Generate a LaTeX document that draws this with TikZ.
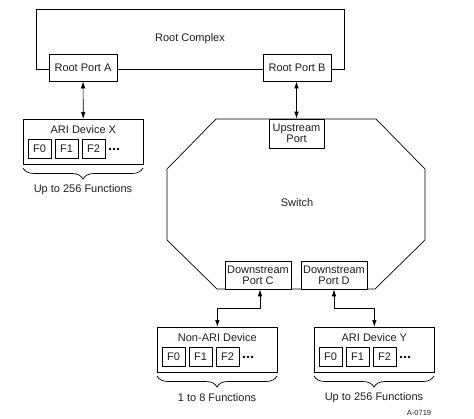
\documentclass[tikz,border=0pt]{standalone}
\usepackage{fontspec}
\setmainfont{Liberation Sans}
\usetikzlibrary{arrows.meta,decorations.pathreplacing,calc}
\begin{document}
\begin{tikzpicture}[x=1pt,y=-1pt,
  line width=0.7pt,
  every node/.style={font=\fontsize{11}{11}\selectfont, text=black!88},
  box/.style={draw, fill=white, inner sep=0pt, align=center},
  fbox/.style={box, minimum width=23pt, minimum height=19pt},
  devbox/.style={box, minimum width=120pt, minimum height=45pt, anchor=north west},
  portbox/.style={box, minimum height=27pt},
  link/.style={{Latex[length=7pt,width=4.5pt]}-{Latex[length=7pt,width=4.5pt]}},
  brc/.style={decorate, decoration={brace, mirror, amplitude=11pt}},
]
\useasboundingbox (0,0) rectangle (474,418);

% Root complex
\node[box, minimum width=308pt, minimum height=60pt] (rc) at (190,39) {Root Complex};
\node[portbox, minimum width=68pt] (rpa) at (83,67.5) {Root Port A};
\node[portbox, minimum width=68pt] (rpb) at (297,67.5) {Root Port B};

% Switch
\draw (216,119) -- (376,119) -- (425,169) -- (425,240) -- (375,289)
  -- (217,289) -- (167,240) -- (167,169) -- cycle;
\node (sw) at (297,203) {Switch};
\node[box, minimum width=55pt, minimum height=29pt] (up) at (296.5,133.5) {Upstream\\Port};
\node[box, minimum width=66pt, minimum height=28pt] (dc) at (258,275) {Downstream\\Port C};
\node[box, minimum width=66pt, minimum height=28pt] (dd) at (334,275) {Downstream\\Port D};

% Devices
\foreach \n/\l/\t/\name/\fn in {dx/23/119/ARI Device X/Up to 256 Functions,
                                dn/157/327/Non-ARI Device/1 to 8 Functions,
                                dy/314/327/ARI Device Y/Up to 256 Functions}{
  \node[devbox] (\n) at (\l,\t) {};
  \node (\n-t) at ($(\n.north)+(0,11)$) {\name};
  \node[fbox] (\n-f0) at (\l+16.5,\t+29.5) {F0};
  \node[fbox] (\n-f1) at (\l+43.5,\t+29.5) {F1};
  \node[fbox] (\n-f2) at (\l+70.5,\t+29.5) {F2};
  \foreach \d in {87,91,95}{\fill (\l+\d,\t+30) circle (1.4);}
  \draw[brc] (\l,\t+49) -- (\l+120,\t+49);
  \node (\n-fn) at (\l+60,\t+71) {\fn};
}

% Links
\draw[link] (rpa) -- (dx);
\draw[link] (up.north) -- (up.north |- rpb.south);
\draw[link] ([xshift=2pt]dc.south) -- ++(0,19) -| (dn.north);
\draw[link] (dd.south) -- ++(0,19) -| (dy.north);

\node[font=\fontsize{7.5}{7.5}\selectfont] (lbl) at (419,413) {A-0719};
\end{tikzpicture}
\end{document}
